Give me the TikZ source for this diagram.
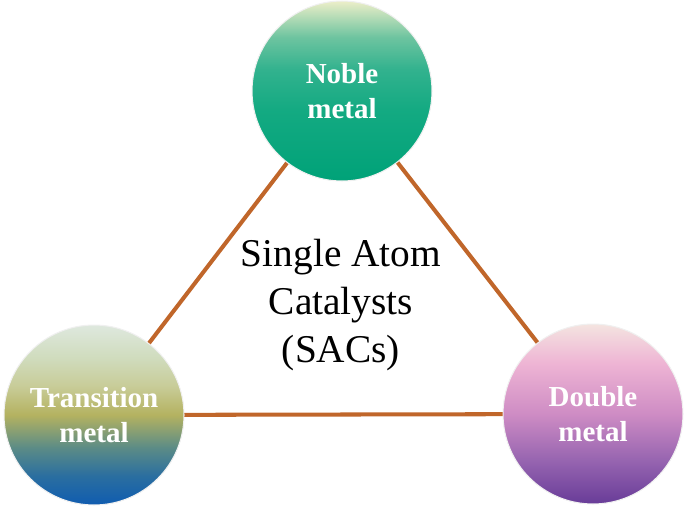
\documentclass[tikz,border=0pt]{standalone}
\usepackage{fontspec}
\setmainfont{Liberation Serif}
\usetikzlibrary{backgrounds}

% Sfumature verticali dei tre cerchi (il cerchio va da 25bp in basso a 75bp in alto)
\pgfdeclareverticalshading{nobile}{100bp}{color(0bp)=(rgb,255:red,0;green,162;blue,120);
  color(25bp)=(rgb,255:red,0;green,162;blue,120); color(45bp)=(rgb,255:red,20;green,170;blue,130);
  color(56bp)=(rgb,255:red,50;green,178;blue,142); color(65bp)=(rgb,255:red,110;green,196;blue,160);
  color(75bp)=(rgb,255:red,236;green,238;blue,200); color(100bp)=(rgb,255:red,236;green,238;blue,200)}
\pgfdeclareverticalshading{transizione}{100bp}{color(0bp)=(rgb,255:red,16;green,92;blue,176);
  color(25bp)=(rgb,255:red,16;green,92;blue,176); color(33bp)=(rgb,255:red,42;green,110;blue,160);
  color(41bp)=(rgb,255:red,92;green,140;blue,134); color(50bp)=(rgb,255:red,180;green,178;blue,96);
  color(58bp)=(rgb,255:red,200;green,204;blue,152); color(66bp)=(rgb,255:red,208;green,220;blue,190);
  color(75bp)=(rgb,255:red,222;green,232;blue,222); color(100bp)=(rgb,255:red,222;green,232;blue,222)}
\pgfdeclareverticalshading{doppio}{100bp}{color(0bp)=(rgb,255:red,104;green,60;blue,152);
  color(25bp)=(rgb,255:red,104;green,60;blue,152); color(37bp)=(rgb,255:red,150;green,100;blue,176);
  color(50bp)=(rgb,255:red,206;green,140;blue,196); color(64bp)=(rgb,255:red,238;green,180;blue,212);
  color(75bp)=(rgb,255:red,244;green,228;blue,224); color(100bp)=(rgb,255:red,244;green,228;blue,224)}

\begin{document}
\begin{tikzpicture}[x=0.02cm, y=-0.02cm]

        % Stili per i cerchi e le linee
        \tikzset{metallo/.style={circle, minimum size=3.6cm, inner sep=0pt, align=center,
                 draw=white!88!gray, line width=0.6pt, text=white,
                 font=\fontsize{16.5}{20}\selectfont\bfseries},
                 lato/.style={draw={rgb,255:red,192;green,102;blue,42}, line width=2.3pt}}

        % Riquadro della figura
        \useasboundingbox (0,0) rectangle (685,508);

        % I tre cerchi
        \node[metallo, shading=nobile] (nobile) at (342,91) {Noble\\metal};
        \node[metallo, shading=transizione] (transizione) at (94,415) {Transition\\metal};
        \node[metallo, shading=doppio] (doppio) at (593,414) {Double\\metal};

        % Testo centrale
        \node[align=center, font=\fontsize{22.4}{27.3}\selectfont] (sac) at (341,305)
             {Single Atom\\Catalysts\\(SACs)};

        % Lati del triangolo, dietro ai cerchi
        \begin{scope}[on background layer]
            \draw[lato] (nobile.center) -- (transizione.center) -- (doppio.center) -- (nobile.center);
        \end{scope}

\end{tikzpicture}
\end{document}
